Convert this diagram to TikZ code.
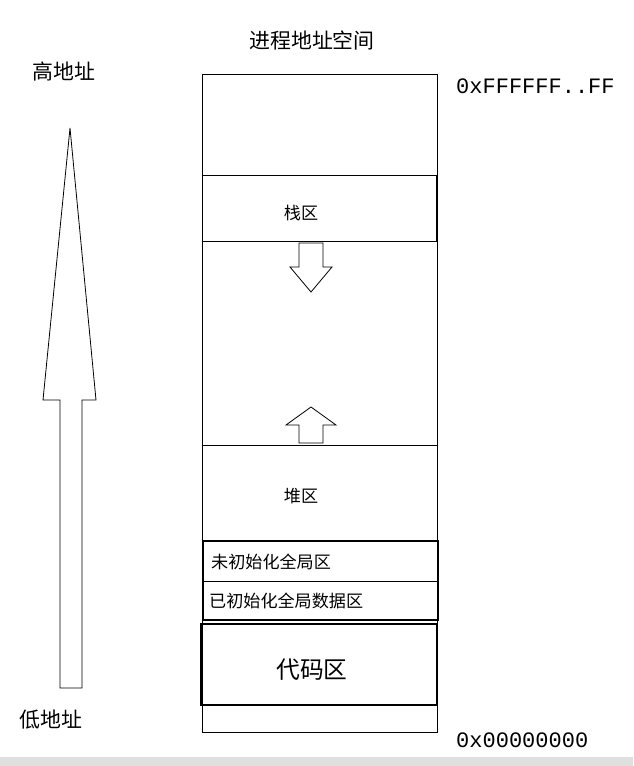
\documentclass[tikz,border=0pt]{standalone}
\usepackage{fontspec}
\setmainfont{Liberation Serif}
\newfontfamily\cjk{Noto Sans CJK SC}[Scale=0.95]
\newfontfamily\hexf{Liberation Mono}
\begin{document}
\begin{tikzpicture}[x=1pt,y=-1pt,
  blk/.style={draw,line width=1pt},
  thk/.style={draw,line width=1.8pt},
  lbl/.style={font=\cjk\fontsize{18}{18}\selectfont},
  arr/.style={draw,line width=0.8pt,fill=white}]
\useasboundingbox (0,0) rectangle (633,766);
\fill[gray!25] (0,757) rectangle (633,766);
% column
\draw[blk] (202,74) rectangle (437,732);
\draw[blk] (202,175) rectangle (437,241);
\draw[line width=1.8pt] (437,175) -- (437,241);
\draw[blk] (202,445) rectangle (437,540);
\draw[thk] (203,541) rectangle (438,620);
\draw[blk] (203,581) -- (438,581);
\draw[thk] (201,624) rectangle (437,705);
% labels
\node[lbl] (stack) at (301,213) {栈区};
\node[lbl] (heap) at (301,496) {堆区};
\node[lbl,anchor=west,inner sep=0pt] (bss) at (211,562) {未初始化全局区};
\node[lbl,anchor=west,inner sep=0pt] (data) at (209,601) {已初始化全局数据区};
\node[font=\cjk\fontsize{25}{25}\selectfont] (code) at (312,670) {代码区};
\node[font=\cjk\fontsize{22}{22}\selectfont] (title) at (312,40) {进程地址空间};
\node[font=\cjk\fontsize{22}{22}\selectfont] (high) at (64,72) {高地址};
\node[font=\cjk\fontsize{22}{22}\selectfont] (low) at (51,720) {低地址};
\node[font=\hexf\fontsize{22}{22}\selectfont,anchor=west,inner sep=0pt] (top) at (456,86) {0xFFFFFF..FF};
\node[font=\hexf\fontsize{22}{22}\selectfont,anchor=west,inner sep=0pt] (bot) at (456,740) {0x00000000};
% arrows
\draw[arr] (299,243) -- (323,243) -- (323,267) -- (332,267) -- (311,292) -- (290,267) -- (299,267) -- cycle;
\draw[arr] (299,443) -- (323,443) -- (323,425) -- (336,425) -- (311,407) -- (286,425) -- (299,425) -- cycle;
\draw[arr] (60,688) -- (82,688) -- (82,400) -- (96,400) -- (70,128) -- (43,400) -- (60,400) -- cycle;
\end{tikzpicture}
\end{document}
